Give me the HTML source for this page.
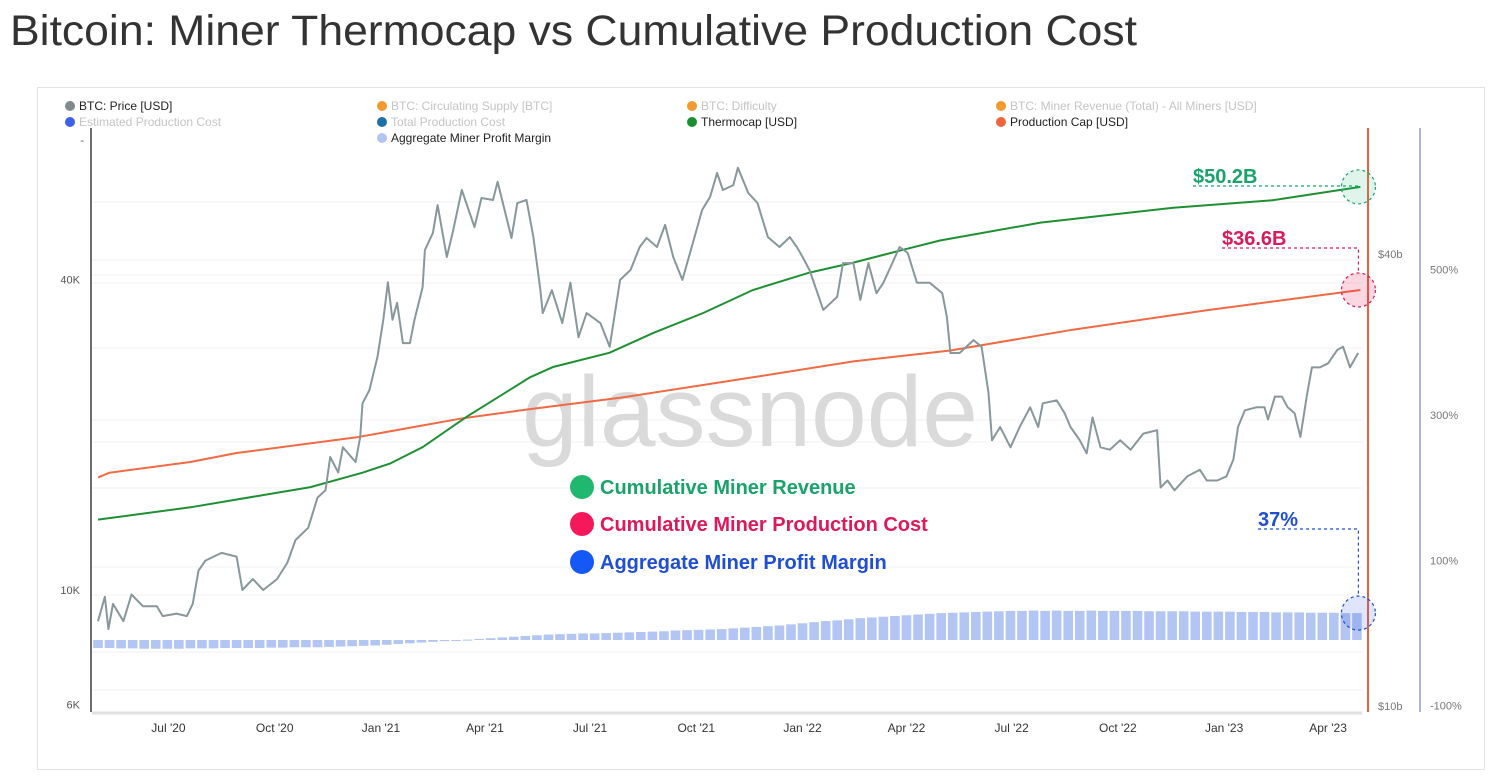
<!DOCTYPE html>
<html><head><meta charset="utf-8"><style>
body{margin:0;background:#fff;width:1500px;height:779px;overflow:hidden;font-family:"Liberation Sans",sans-serif}
svg text{font-family:"Liberation Sans",sans-serif}
</style></head><body>
<svg id="chart" width="1500" height="779" viewBox="0 0 1500 779">
<text x="10" y="45" font-size="43" textLength="1127" lengthAdjust="spacingAndGlyphs" fill="#333">Bitcoin: Miner Thermocap vs Cumulative Production Cost</text>
<rect x="37.5" y="87.5" width="1447" height="682" fill="none" stroke="#e2e2e2"/>
<g id="legend" font-size="12">
 <g><circle cx="70" cy="106" r="5" fill="#7f8a8c"/><text x="79" y="110" fill="#222">BTC: Price [USD]</text></g>
 <g><circle cx="382" cy="106" r="5" fill="#f29a2e"/><text x="391" y="110" fill="#c4c4c4">BTC: Circulating Supply [BTC]</text></g>
 <g><circle cx="692" cy="106" r="5" fill="#f29a2e"/><text x="701" y="110" fill="#c4c4c4">BTC: Difficulty</text></g>
 <g><circle cx="1001" cy="106" r="5" fill="#f29a2e"/><text x="1010" y="110" fill="#c4c4c4">BTC: Miner Revenue (Total) - All Miners [USD]</text></g>
 <g><circle cx="70" cy="122" r="5" fill="#3b62e6"/><text x="79" y="126" fill="#c4c4c4">Estimated Production Cost</text></g>
 <g><circle cx="382" cy="122" r="5" fill="#1d6fa5"/><text x="391" y="126" fill="#c4c4c4">Total Production Cost</text></g>
 <g><circle cx="692" cy="122" r="5" fill="#1a8f2e"/><text x="701" y="126" fill="#222">Thermocap [USD]</text></g>
 <g><circle cx="1001" cy="122" r="5" fill="#f0643c"/><text x="1010" y="126" fill="#222">Production Cap [USD]</text></g>
 <g><circle cx="382" cy="138" r="5" fill="#b3c4f2"/><text x="391" y="142" fill="#222">Aggregate Miner Profit Margin</text></g>
</g>
<g id="grid" stroke="#f1f1f1" stroke-width="1"></g>
<text x="750" y="446" font-size="100" text-anchor="middle" fill="#dadada">glassnode</text>
<g id="bars"></g>
<path id="prodLine" fill="none" stroke="#ef6a45" stroke-width="2"/>
<path id="thermoLine" fill="none" stroke="#1f8f33" stroke-width="2"/>
<path id="priceLine" fill="none" stroke="#87979a" stroke-width="2" stroke-linejoin="round"/>
<line x1="91" y1="128" x2="91" y2="712" stroke="#6d6d6d" stroke-width="2"/>
<line x1="92" y1="713" x2="1362" y2="713" stroke="#e0e0e0" stroke-width="3"/>
<line x1="1368" y1="128" x2="1368" y2="712" stroke="#e8603c" stroke-width="2"/>
<line x1="1420" y1="128" x2="1420" y2="712" stroke="#aab6df" stroke-width="2"/>
<g id="leftTicks" font-size="11" fill="#555" text-anchor="end"></g>
<g id="xTicks" font-size="12" fill="#333" text-anchor="middle"></g>
<g id="capTicks" font-size="11" fill="#777"></g>
<g id="pctTicks" font-size="11" fill="#777"></g>
<g font-weight="bold" font-size="20">
 <g><circle cx="582" cy="487" r="12" fill="#1fb86e"/><text x="600" y="494" fill="#19a36a">Cumulative Miner Revenue</text></g>
 <g><circle cx="582" cy="524" r="12" fill="#f5195c"/><text x="600" y="531" fill="#dc1a5a">Cumulative Miner Production Cost</text></g>
 <g><circle cx="582" cy="562" r="12" fill="#1458f5"/><text x="600" y="569" fill="#1f4fd0">Aggregate Miner Profit Margin</text></g>
</g>
<g id="callouts" font-weight="bold" font-size="20"></g>
</svg>
<script>
const priceDays=[0,6,9,13,22,29,39,51,56,68,77,82,87,93,107,120,125,134,143,155,164,171,182,190,197,201,208,212,223,227,229,235,242,247,251,255,259,264,270,274,281,283,290,294,302,307,315,326,332,342,346,352,358,363,371,377,383,385,393,402,409,416,423,435,443,452,461,469,475,484,491,498,506,515,523,530,536,541,550,554,563,571,580,590,599,605,610,616,628,640,645,654,660,667,674,680,694,701,709,720,731,735,738,746,758,765,771,774,781,790,798,807,814,818,830,837,842,850,856,861,868,876,885,894,905,917,920,926,932,943,954,960,969,977,983,987,993,1003,1010,1013,1019,1025,1030,1036,1041,1047,1051,1058,1065,1073,1078,1084,1091];
const priceK=[8.7,9.7,8.4,9.4,8.7,9.8,9.3,9.3,8.9,9.0,8.9,9.4,10.9,11.4,11.8,11.6,10.0,10.5,10.0,10.5,11.3,12.5,13.2,15.1,15.6,18.1,16.9,18.9,17.7,19.8,23.0,24.4,28.3,33.4,39.5,33.4,36.0,30.1,30.1,33.4,38.6,45.6,49.2,55.7,44.2,49.2,59.6,50.5,57.5,57.0,61.8,54.5,48.1,56.2,57.0,48.3,38.1,34.4,38.1,32.9,39.4,30.9,34.4,32.9,29.6,39.9,41.7,46.2,48.1,46.2,51.0,44.2,39.9,47.0,54.5,57.8,64.3,59.6,60.9,65.8,58.8,56.2,48.3,46.2,48.3,46.2,44.2,41.7,34.9,37.0,43.0,43.0,36.5,43.0,37.6,39.4,46.2,45.0,39.4,39.4,37.6,33.8,28.8,28.8,30.5,29.6,24.1,19.5,20.7,18.9,20.7,22.6,20.7,23.0,23.3,22.0,20.7,19.5,18.4,21.6,18.9,18.7,19.5,18.7,20.1,20.4,15.8,16.3,15.6,16.6,17.1,16.3,16.3,16.6,17.9,20.7,22.3,22.6,22.6,21.4,23.7,23.7,22.6,22.0,19.8,24.1,27.0,27.0,27.5,29.2,29.6,27.0,28.8];
const thermoDays=[0,80,184,229,253,281,319,374,394,443,481,524,567,616,654,697,729,816,931,1017,1093];
const thermoB=[18.1,18.8,20.0,20.9,21.5,22.6,24.8,28.0,28.9,30.2,32.1,34.1,36.6,38.6,39.8,41.4,42.6,45.0,47.1,48.2,50.2];
const prodDays=[0,10,80,120,224,316,374,452,567,654,738,844,960,1093];
const prodB=[20.6,20.9,21.6,22.2,23.3,24.7,25.4,26.3,28.0,29.4,30.4,32.4,34.4,36.6];
const marginDays=[0,10,20,30,40,50,60,70,80,90,100,110,120,130,140,150,160,170,180,190,200,210,220,230,240,250,260,270,280,290,300,310,320,330,340,350,360,370,380,390,400,410,420,430,440,450,460,470,480,490,500,510,520,530,540,550,560,570,580,590,600,610,620,630,640,650,660,670,680,690,700,710,720,730,740,750,760,770,780,790,800,810,820,830,840,850,860,870,880,890,900,910,920,930,940,950,960,970,980,990,1000,1010,1020,1030,1040,1050,1060,1070,1080,1090];
const marginPct=[-11,-11,-11.5,-11.5,-12,-12,-12,-12,-11.5,-11.5,-11.5,-11,-11,-11,-11,-10.5,-10.5,-10,-10,-10,-9.5,-9,-8.5,-8,-7.5,-6.5,-5.5,-4.5,-3.5,-2.5,-1.5,-0.5,0.5,1.5,2.5,3.5,4.5,5.5,6.5,7.5,8,8.5,9,9,9.5,10,10.5,11,11.5,12,13,13.5,14,14.5,15,16,17,18,19,20,21.5,23,24.5,26,27,28.5,30,31,32,33,34,35,36,37,37.5,38,38.5,39,39.5,40,40,40.5,40,40.5,40,40,40.5,40,40,40,40,39.5,39.5,39.5,39.5,39,39,39,39,38.5,38.5,38.5,38,38,38,37.5,37.5,37.5,37,37];
const xTickLabels=["Jul '20","Oct '20","Jan '21","Apr '21","Jul '21","Oct '21","Jan '22","Apr '22","Jul '22","Oct '22","Jan '23","Apr '23"];
const xTickDays=[61,153,245,335,426,518,610,700,791,883,975,1065];
const priceTickLabels=["40K","10K","6K"];
const priceTickValues=[40,10,6];
const capTickLabels=["$40b","$10b"];
const capTickValues=[40,10];
const pctTickLabels=["500%","300%","100%","-100%"];
const pctTickValues=[500,300,100,-100];
const lastThermo="$50.2B", lastProd="$36.6B", lastMargin="37%";

const NS="http://www.w3.org/2000/svg";
const X=d=>98+d*1.155;
const YP=k=>590-516*Math.log10(k/10);
const YC=b=>261-751*Math.log10(b/40);
const YM=m=>640-0.727*m;
function mk(tag,attrs,parent){const e=document.createElementNS(NS,tag);for(const k in attrs)e.setAttribute(k,attrs[k]);parent.appendChild(e);return e;}
function path(xs,ys){return xs.map((x,i)=>(i?"L":"M")+x.toFixed(1)+","+ys[i].toFixed(1)).join("");}

const grid=document.getElementById('grid');
[202,260,275,283,348,420,442,488,567,595,652,690].forEach(y=>{const l=mk('line',{x1:92,x2:1362,y1:y,y2:y},grid);

});

const bars=document.getElementById('bars');
marginDays.forEach((d,i)=>{const m=marginPct[i];const y0=YM(0),y1=YM(m);
const r=mk('rect',{x:X(d)-4.8,y:Math.min(y0,y1),width:9.6,height:Math.max(1,Math.abs(y1-y0)),fill:'#b2c5f3'},bars);

});

document.getElementById('priceLine').setAttribute('d',path(priceDays.map(X),priceK.map(YP)));
document.getElementById('thermoLine').setAttribute('d',path(thermoDays.map(X),thermoB.map(YC)));
document.getElementById('prodLine').setAttribute('d',path(prodDays.map(X),prodB.map(YC)));

const lt=document.getElementById('leftTicks');
const dash=mk('text',{x:84,y:144},lt);dash.textContent='-';


priceTickLabels.forEach((s,i)=>{const t=mk('text',{x:80,y:YP(priceTickValues[i])+4},lt);t.textContent=s;

});
const xt=document.getElementById('xTicks');
xTickLabels.forEach((s,i)=>{const t=mk('text',{x:X(xTickDays[i]),y:732},xt);t.textContent=s;

});
const ct=document.getElementById('capTicks');
capTickLabels.forEach((s,i)=>{const t=mk('text',{x:1378,y:YC(capTickValues[i])-3},ct);t.textContent=s;

});
const pt=document.getElementById('pctTicks');
pctTickLabels.forEach((s,i)=>{const t=mk('text',{x:1430,y:YM(pctTickValues[i])-3},pt);t.textContent=s;

});

const co=document.getElementById('callouts');
const lx=X(thermoDays[thermoDays.length-1])-2;
function callout(label,color,fill,tx,ty,py,name){
 const g=mk('g',{},co);
 
 
 const t=mk('text',{x:tx,y:ty,fill:color},g);t.textContent=label;
 mk('path',{d:`M${tx},${ty+3}H${lx}V${Math.max(ty+3,py-17)}`,fill:'none',stroke:color,'stroke-width':1.2,'stroke-dasharray':'3,3'},g);
 mk('circle',{cx:lx,cy:py,r:17,fill:fill,stroke:color,'stroke-width':1.2,'stroke-dasharray':'3,3'},g);
}
callout(lastThermo,'#19a36a','rgba(40,190,120,0.15)',1193,183,YC(thermoB[thermoB.length-1]),'thermocap-callout');
callout(lastProd,'#d81b5c','rgba(240,30,90,0.18)',1222,245,YC(prodB[prodB.length-1]),'production-cap-callout');
callout(lastMargin,'#1f4fd0','rgba(40,90,230,0.15)',1258,526,YM(marginPct[marginPct.length-1]),'margin-callout');
</script>
</body></html>
